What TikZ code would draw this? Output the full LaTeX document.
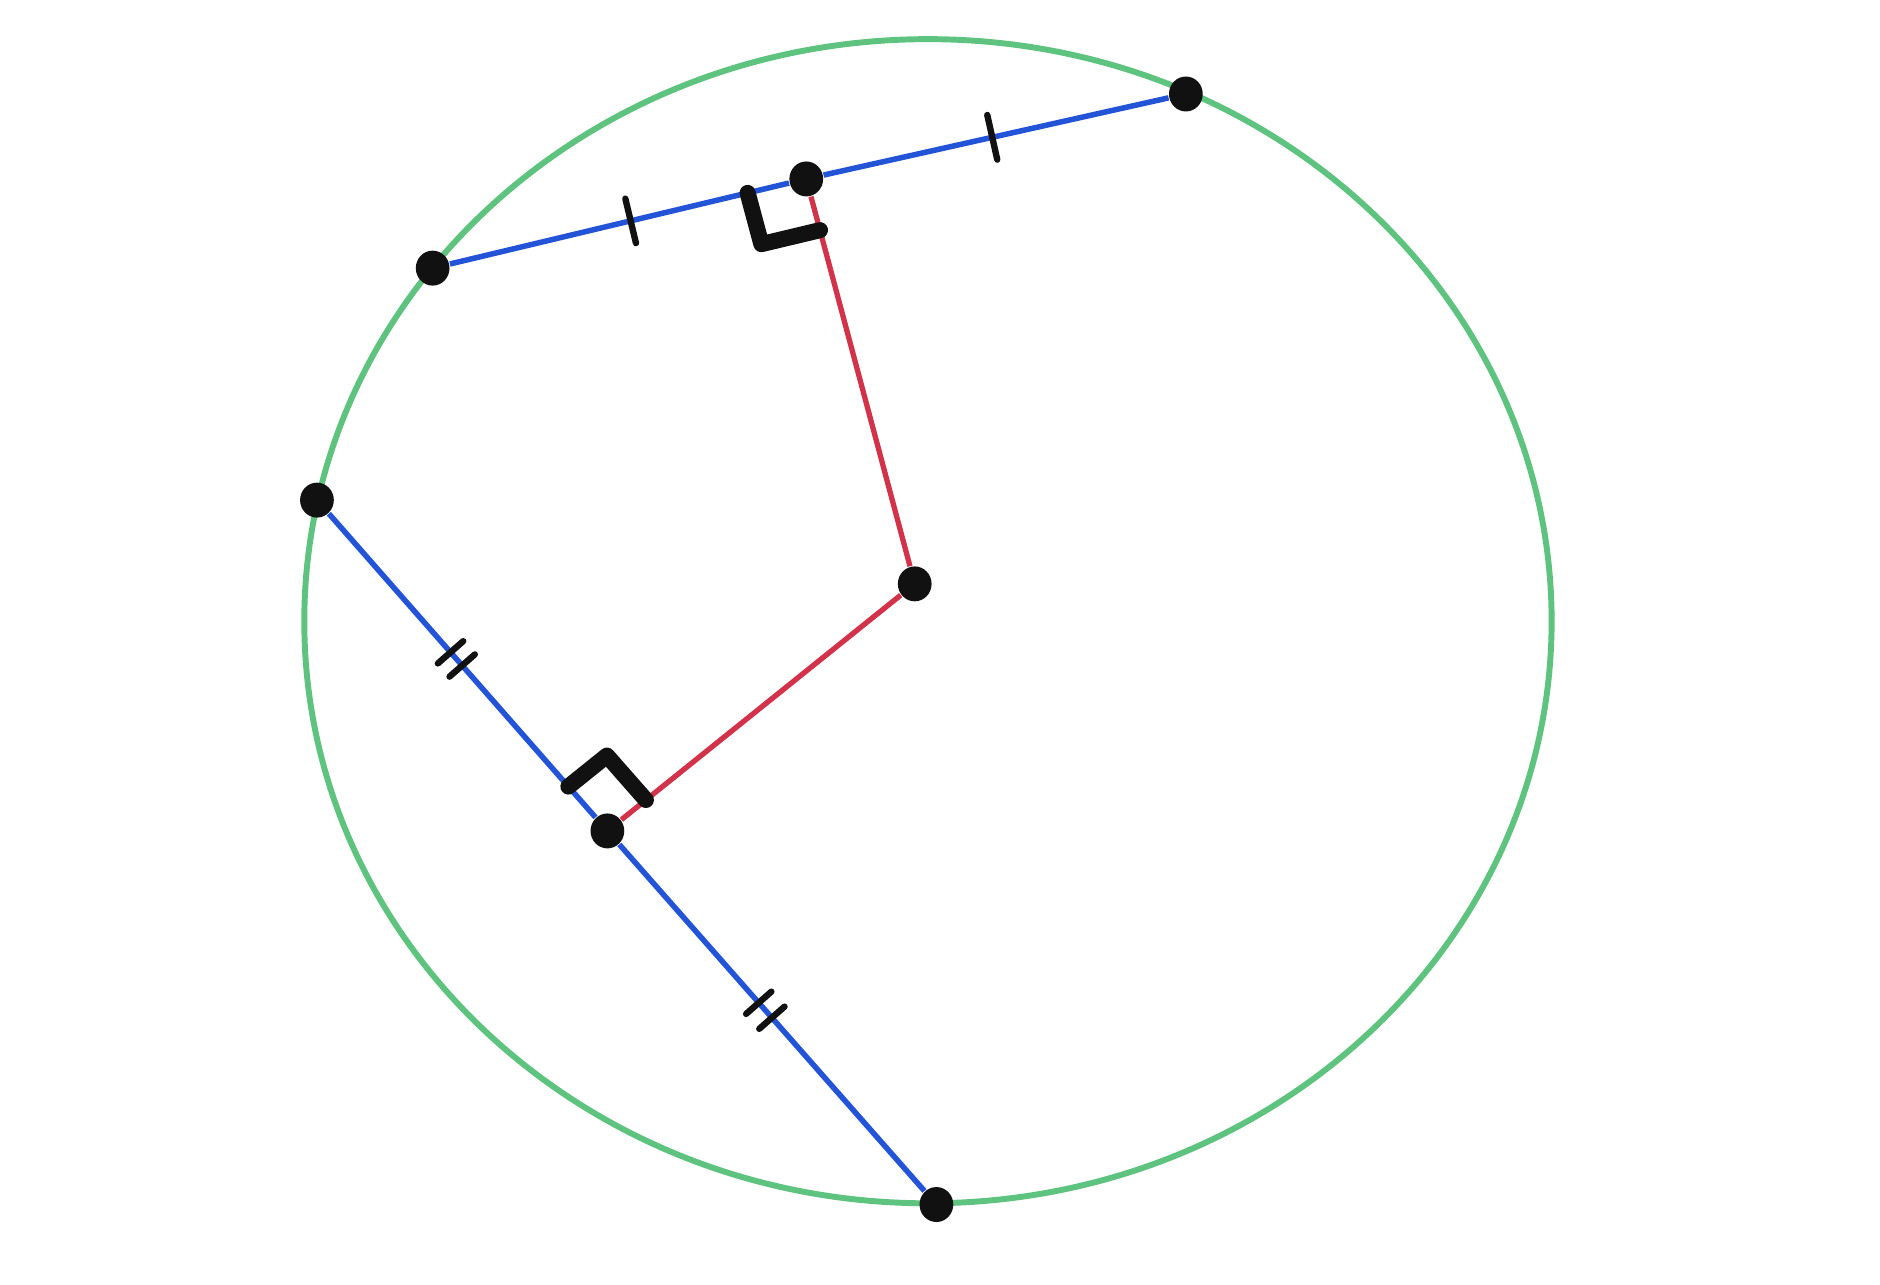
\documentclass[tikz,border=0pt]{standalone}
\usetikzlibrary{calc}
\definecolor{chordblue}{HTML}{2354D8}
\definecolor{perpred}{HTML}{D3334A}
\definecolor{circgreen}{HTML}{5EC37E}
\definecolor{dotblack}{HTML}{111111}
\tikzset{
  ptdot/.style={ellipse, fill=dotblack, inner sep=0pt, minimum width=0.28cm, minimum height=0.29cm},
  chordline/.style={chordblue, line width=1.3pt},
  perpline/.style={perpred, line width=1.25pt},
  circleline/.style={circgreen, line width=1.4pt},
  tickmark/.style={dotblack, line width=1.5pt, line cap=round},
  rightmark/.style={dotblack, line width=3.8pt, line cap=round, line join=round}
}
\usetikzlibrary{shapes.geometric}
\begin{document}
\begin{tikzpicture}
			\useasboundingbox (0,0) rectangle (15.6,10.655);

			% Circle
			\draw[circleline] (7.70,5.50) ellipse (5.175 and 4.83);

			% Points
			\node[ptdot] (A) at (9.84,9.875) {};
			\node[ptdot] (B) at (6.69,9.17) {};
			\node[ptdot] (C) at (3.59,8.43) {};
			\node[ptdot] (O) at (7.59,5.81) {};
			\node[ptdot] (D) at (2.63,6.505) {};
			\node[ptdot] (E) at (5.04,3.76) {};
			\node[ptdot] (F) at (7.77,0.66) {};

			% Chords
			\draw[chordline] (C) -- (B) -- (A);
			\draw[chordline] (D) -- (E) -- (F);

			% Perpendiculars from the centre
			\draw[perpline] (B) -- (O) -- (E);

			% Right angle marks
			\draw[rightmark] ($(B)!0.50cm!(C)$) -- ($($(B)!0.50cm!(C)$)+($(B)!0.44cm!(O)$)-(B)$) -- ($(B)!0.44cm!(O)$);
			\draw[rightmark] ($(E)!0.49cm!(D)$) -- ($($(E)!0.49cm!(D)$)+($(E)!0.41cm!(O)$)-(E)$) -- ($(E)!0.41cm!(O)$);

			% Equal halves
			\foreach \p/\q/\t in {C/B/0.53, B/A/0.49}
				\draw[tickmark] ($($(\p)!\t!(\q)$)!0.19cm!90:(\q)$) -- ($($(\p)!\t!(\q)$)!0.19cm!-90:(\q)$);
			\foreach \p/\q in {D/E, E/F}
				\foreach \t in {0.46,0.50}
					\draw[tickmark] ($($(\p)!\t!(\q)$)!0.14cm!90:(\q)$) -- ($($(\p)!\t!(\q)$)!0.14cm!-90:(\q)$);
		\end{tikzpicture}
\end{document}
